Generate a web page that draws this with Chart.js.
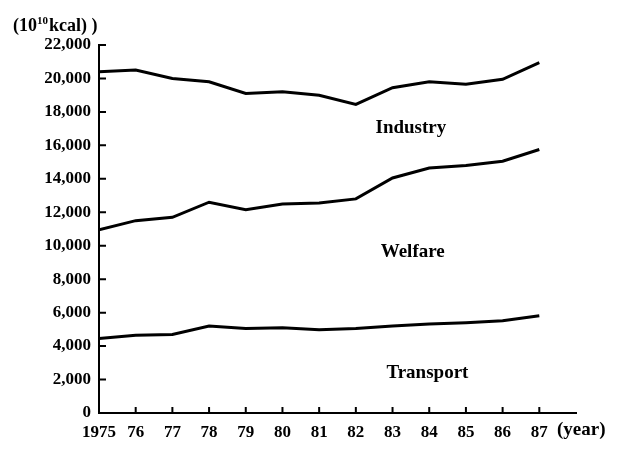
<html>
  <head>
    <script src="https://cdn.jsdelivr.net/npm/chart.js@4/dist/chart.umd.min.js"></script>
    <style>
      body { margin: 0; background: #fff; }
    </style>
  </head>
  <body>
    <canvas id="output" width="620" height="453"></canvas>

    <script>
      // values (10^10 kcal)
      var years = [1975, 1976, 1977, 1978, 1979, 1980, 1981, 1982, 1983, 1984, 1985, 1986, 1987];
      var yearLabels = ['1975', '76', '77', '78', '79', '80', '81', '82', '83', '84', '85', '86', '87'];
      var industry = [20400, 20500, 20000, 19800, 19100, 19200, 19000, 18450, 19450, 19800, 19650, 19950, 20950];
      var welfare = [10950, 11500, 11700, 12600, 12150, 12500, 12550, 12800, 14050, 14650, 14800, 15050, 15750];
      var transport = [4450, 4650, 4700, 5200, 5050, 5100, 4980, 5050, 5200, 5320, 5400, 5520, 5820];
      var seriesNames = ['Industry', 'Welfare', 'Transport'];
      // where each name sits, in data units [year, value]
      var namePos = [[1983.5, 17050], [1983.55, 9600], [1983.95, 2380]];

      var serif = '"Liberation Serif", "DejaVu Serif", serif';

      function toPoints(vals) {
        return vals.map(function (v, i) { return { x: years[i], y: v }; });
      }

      // inward tick marks, series names and the axis units
      var decorPlugin = {
        id: 'decor',
        afterDraw: function (chart) {
          var ctx = chart.ctx;
          var xs = chart.scales.x, ys = chart.scales.y;
          ctx.save();
          ctx.strokeStyle = '#000';
          ctx.lineWidth = 2;
          ctx.beginPath();
          years.forEach(function (yr, i) {
            if (i === 0) return;
            var px = xs.getPixelForValue(yr);
            ctx.moveTo(px, ys.bottom);
            ctx.lineTo(px, ys.bottom - 6);
          });
          ys.ticks.forEach(function (t) {
            if (t.value === 0) return;
            var py = ys.getPixelForValue(t.value);
            ctx.moveTo(xs.left, py);
            ctx.lineTo(xs.left + 7, py);
          });
          ctx.stroke();

          ctx.fillStyle = '#000';
          ctx.textBaseline = 'middle';
          ctx.textAlign = 'center';
          ctx.font = 'bold 19px ' + serif;
          seriesNames.forEach(function (name, i) {
            ctx.fillText(name, xs.getPixelForValue(namePos[i][0]), ys.getPixelForValue(namePos[i][1]));
          });

          ctx.textAlign = 'left';
          ctx.fillText('(year)', xs.right - 19, ys.bottom + 17);

          // (10^10 kcal) )
          var x0 = 13, y0 = 26;
          ctx.font = 'bold 18px ' + serif;
          ctx.fillText('(10', x0, y0);
          x0 += ctx.measureText('(10').width;
          ctx.font = 'bold 11px ' + serif;
          ctx.fillText('10', x0, y0 - 5);
          x0 += ctx.measureText('10').width + 1;
          ctx.font = 'bold 18px ' + serif;
          ctx.fillText('kcal) )', x0, y0);
          ctx.restore();
        }
      };

      var ctx = document.getElementById('output').getContext('2d');
      var myChart = new Chart(ctx, {
        type: 'line',
        data: {
          datasets: [
            { label: seriesNames[0], data: toPoints(industry) },
            { label: seriesNames[1], data: toPoints(welfare) },
            { label: seriesNames[2], data: toPoints(transport) }
          ]
        },
        options: {
          responsive: false,
          animation: false,
          layout: { padding: { top: 45, right: 44, left: 0, bottom: 0 } },
          elements: {
            line: { borderColor: '#000', borderWidth: 3, tension: 0 },
            point: { radius: 0 }
          },
          plugins: {
            legend: { display: false },
            tooltip: { enabled: false }
          },
          scales: {
            x: {
              type: 'linear',
              min: 1975,
              max: 1988,
              afterFit: function (s) { s.height = 40; },
              afterBuildTicks: function (s) {
                s.ticks = years.map(function (y) { return { value: y }; });
              },
              ticks: {
                color: '#000',
                font: { family: serif, size: 17, weight: 'bold' },
                padding: 9,
                maxRotation: 0,
                autoSkip: false,
                callback: function (v) { return yearLabels[years.indexOf(v)]; }
              },
              grid: { drawOnChartArea: false, drawTicks: false },
              border: { color: '#000', width: 2 }
            },
            y: {
              min: 0,
              max: 22000,
              afterFit: function (s) { s.width = 99; },
              ticks: {
                stepSize: 2000,
                color: '#000',
                font: { family: serif, size: 17, weight: 'bold' },
                padding: 8,
                callback: function (v) { return v.toLocaleString('en-US'); }
              },
              grid: { drawOnChartArea: false, drawTicks: false },
              border: { color: '#000', width: 2 }
            }
          }
        },
        plugins: [decorPlugin]
      });
    </script>
  </body>
</html>
